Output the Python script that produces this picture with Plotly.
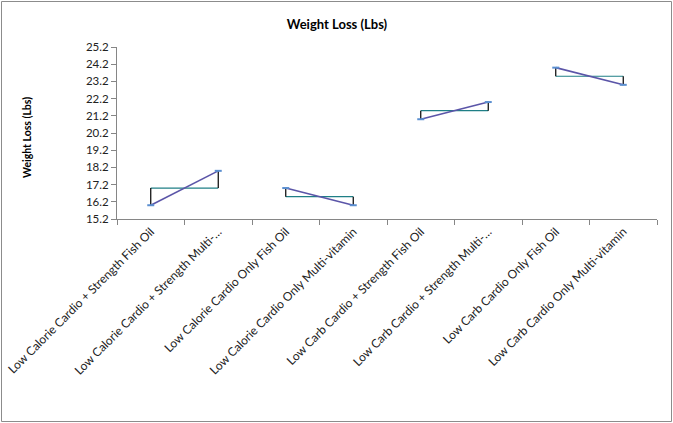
import plotly.graph_objects as go

categories = [
    "Low Calorie Cardio + Strength Fish Oil",
    "Low Calorie Cardio + Strength Multi-…",
    "Low Calorie Cardio Only Fish Oil",
    "Low Calorie Cardio Only Multi-vitamin",
    "Low Carb Cardio + Strength Fish Oil",
    "Low Carb Cardio + Strength Multi-…",
    "Low Carb Cardio Only Fish Oil",
    "Low Carb Cardio Only Multi-vitamin",
]
weight_loss = [16, 18, 17, 16, 21, 22, 24, 23]
y_ticks = [15.2 + i for i in range(11)]

FONT = "Lato"
W, H = 673, 423
L, R, T, B = 117, 16, 47, 204

fig = go.Figure()

for i in range(0, len(categories), 2):
    c1, c2 = categories[i], categories[i + 1]
    v1, v2 = weight_loss[i], weight_loss[i + 1]
    m = (v1 + v2) / 2
    fig.add_trace(go.Scatter(x=[c1, c2], y=[m, m], mode="lines",
                             line=dict(color="#1f7f86", width=1.2),
                             hoverinfo="skip", showlegend=False))
    fig.add_trace(go.Scatter(x=[c1, c1], y=[v1, m], mode="lines",
                             line=dict(color="#000000", width=1.2),
                             hoverinfo="skip", showlegend=False))
    fig.add_trace(go.Scatter(x=[c2, c2], y=[v2, m], mode="lines",
                             line=dict(color="#000000", width=1.2),
                             hoverinfo="skip", showlegend=False))
    fig.add_trace(go.Scatter(x=[c1, c2], y=[v1, v2], mode="lines+markers",
                             line=dict(color="#5b55a8", width=1.6),
                             marker=dict(symbol="line-ew", size=5,
                                         line=dict(color="#5b8fd0", width=2)),
                             showlegend=False))

fig.update_xaxes(
    type="category", categoryorder="array", categoryarray=categories,
    range=[-0.5, len(categories) - 0.5],
    tickson="boundaries", ticks="outside", ticklen=5, tickcolor="#868686",
    showline=True, linecolor="#868686", linewidth=1,
    showgrid=False, zeroline=False, tickangle=-45,
    tickfont=dict(family=FONT, size=12, color="#222222"),
)
fig.update_yaxes(
    range=[15.2, 25.2], tickvals=y_ticks,
    ticktext=[f"{v:.1f}" for v in y_ticks],
    ticks="outside", ticklen=5, tickcolor="#868686",
    showline=True, linecolor="#868686", linewidth=1,
    showgrid=False, zeroline=False,
    tickfont=dict(family=FONT, size=11.5, color="#222222"),
)

pw = W - L - R
ph = H - T - B
fig.add_annotation(text="<b>Weight Loss (Lbs)</b>", textangle=-90,
                   xref="paper", yref="paper",
                   x=(27 - L) / pw, y=(H - B - 138) / ph,
                   xanchor="center", yanchor="middle", showarrow=False,
                   font=dict(family=FONT, size=10.5, color="#000000"))

fig.add_shape(type="rect", xref="paper", yref="paper",
              x0=(1.5 - L) / pw, x1=(W - 1.5 - L) / pw,
              y0=(H - B - (H - 1.5)) / ph, y1=(H - B - 1.5) / ph,
              line=dict(color="#8c8c8c", width=1), fillcolor="rgba(0,0,0,0)",
              layer="below")

fig.update_layout(
    width=W, height=H,
    margin=dict(l=L, r=R, t=T, b=B, autoexpand=False),
    paper_bgcolor="white", plot_bgcolor="white",
    title=dict(text="<b>Weight Loss (Lbs)</b>", x=337 / W, xanchor="center",
               y=1 - 24 / H, yanchor="middle",
               font=dict(family=FONT, size=13, color="#000000")),
)

fig.write_html("out.html")
